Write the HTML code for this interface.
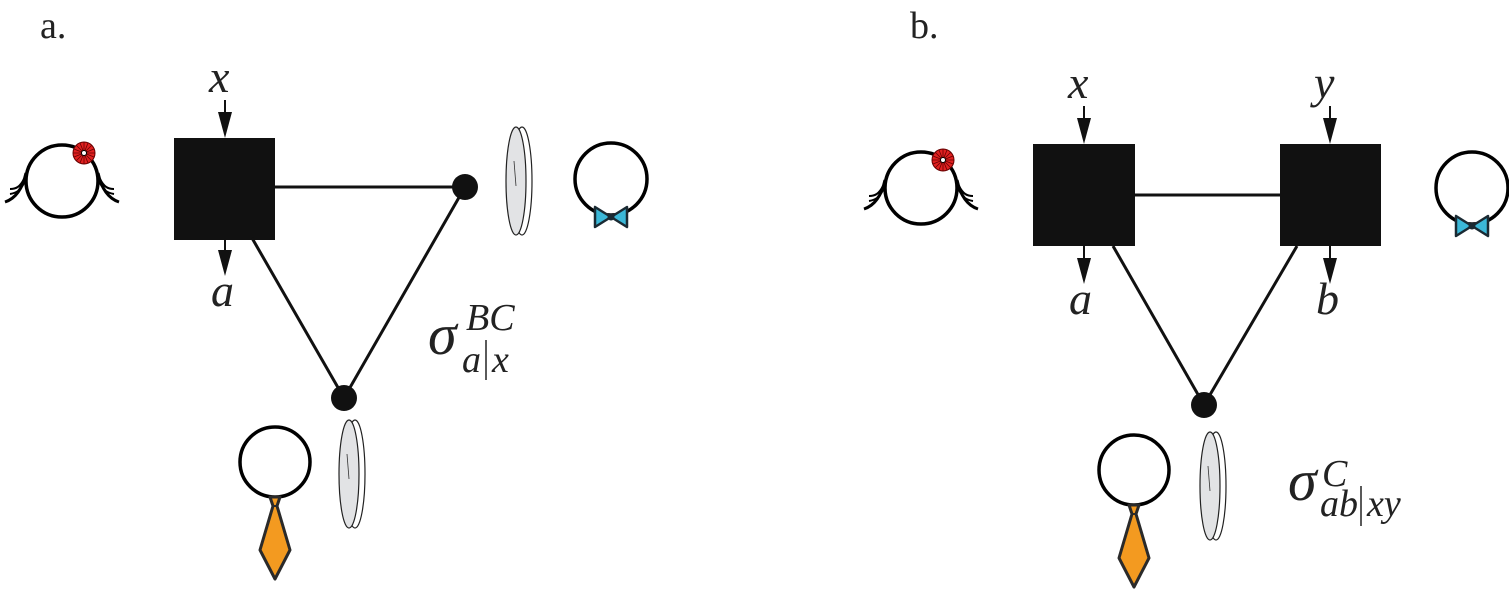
<!DOCTYPE html>
<html><head><meta charset="utf-8"><style>
html,body{margin:0;padding:0;background:#fff;}
svg{display:block;}
text{font-family:"Liberation Serif",serif;fill:#222;}
.m{font-style:italic;}
</style></head><body>
<svg width="1509" height="594" viewBox="0 0 1509 594" xmlns="http://www.w3.org/2000/svg">
<defs>
<g id="headA">
  <circle cx="0" cy="0" r="36" fill="#fff" stroke="#000" stroke-width="3.5"/>
  <path d="M-36,-8 C-40,10 -48,18 -57,21" fill="none" stroke="#000" stroke-width="3"/>
  <path d="M-38,-2 C-42,6 -46,8 -52,8 M-38,2 C-42,10 -46,12 -52,13" fill="none" stroke="#000" stroke-width="2"/>
  <path d="M36,-8 C40,10 48,18 57,21" fill="none" stroke="#000" stroke-width="3"/>
  <path d="M38,-2 C42,6 46,8 52,8 M38,2 C42,10 46,12 52,13" fill="none" stroke="#000" stroke-width="2"/>
  <g transform="translate(22,-28)">
    <circle r="11" fill="#e02020" stroke="#600" stroke-width="1"/>
    <path d="M-11,0H11M0,-11V11M-8,-8L8,8M-8,8L8,-8M-10,-4L10,4M-10,4L10,-4M-4,-10L4,10M4,-10L-4,10" stroke="#600" stroke-width="0.8"/>
    <circle r="2.5" fill="#fff" stroke="#000" stroke-width="1"/>
  </g>
</g>
<g id="headB">
  <circle cx="0" cy="0" r="36" fill="#fff" stroke="#000" stroke-width="3.5"/>
  <path d="M-16,28 L-16,48 L0,38 L16,48 L16,28 L0,38 Z" fill="#3bb8d8" stroke="#1a2a33" stroke-width="2.5" stroke-linejoin="round"/>
  <circle cx="0" cy="38" r="3.5" fill="#1a2a33"/>
</g>
<g id="headC">
  <circle cx="0" cy="0" r="35" fill="#fff" stroke="#000" stroke-width="3.5"/>
  <path d="M-5,35 L5,35 L2,44 L15,88 L0,117 L-15,88 L-2,44 Z" fill="#f39a20" stroke="#2a2a2a" stroke-width="3" stroke-linejoin="round"/>
  <path d="M-2,44 L2,44" stroke="#2a2a2a" stroke-width="2"/>
</g>
<g id="lens">
  <ellipse cx="4" cy="0" rx="10" ry="54" fill="#fff" stroke="#222" stroke-width="1.2"/>
  <ellipse cx="-2" cy="0" rx="10" ry="54" fill="#e2e3e5" stroke="#222" stroke-width="1.2"/>
  <path d="M-4,-20 L-2,5" stroke="#333" stroke-width="0.8"/>
</g>
<path id="arrH" d="M-7,0 L7,0 L0,26 Z" fill="#111"/>
</defs>

<!-- Panel a -->
<text x="40" y="38" font-size="38">a.</text>
<use href="#headA" x="62" y="181"/>
<rect x="174" y="138" width="101" height="102" fill="#111"/>
<line x1="225" y1="100" x2="225" y2="116" stroke="#111" stroke-width="2"/>
<use href="#arrH" x="225" y="112"/>
<line x1="225" y1="240" x2="225" y2="254" stroke="#111" stroke-width="2"/>
<use href="#arrH" x="225" y="250"/>
<text class="m" x="209" y="92" font-size="46">x</text>
<text class="m" x="211" y="306" font-size="46">a</text>
<line x1="275" y1="187" x2="465" y2="187" stroke="#111" stroke-width="3"/>
<line x1="252" y1="238" x2="344" y2="398" stroke="#111" stroke-width="3"/>
<line x1="344" y1="398" x2="465" y2="187" stroke="#111" stroke-width="3"/>
<ellipse cx="465" cy="187" rx="13" ry="13" fill="#111"/>
<ellipse cx="344" cy="398" rx="13" ry="13" fill="#111"/>
<use href="#lens" x="518" y="181"/>
<use href="#headB" x="611" y="179"/>
<use href="#lens" x="351" y="474"/>
<use href="#headC" x="275" y="462"/>
<text class="m" x="428" y="354" font-size="58">σ</text>
<text class="m" x="466" y="330" font-size="38">BC</text>
<text class="m" x="462" y="372" font-size="38">a</text>
<line x1="486" y1="340" x2="486" y2="380" stroke="#222" stroke-width="1.5"/>
<text class="m" x="492" y="372" font-size="38">x</text>

<!-- Panel b -->
<text x="910" y="38" font-size="38">b.</text>
<use href="#headA" x="921" y="188"/>
<rect x="1033" y="144" width="102" height="102" fill="#111"/>
<rect x="1280" y="144" width="101" height="102" fill="#111"/>
<line x1="1135" y1="195" x2="1280" y2="195" stroke="#111" stroke-width="3"/>
<line x1="1084" y1="106" x2="1084" y2="122" stroke="#111" stroke-width="2"/>
<use href="#arrH" x="1084" y="118"/>
<line x1="1330" y1="106" x2="1330" y2="122" stroke="#111" stroke-width="2"/>
<use href="#arrH" x="1330" y="118"/>
<line x1="1084" y1="246" x2="1084" y2="260" stroke="#111" stroke-width="2"/>
<use href="#arrH" x="1084" y="258"/>
<line x1="1330" y1="246" x2="1330" y2="260" stroke="#111" stroke-width="2"/>
<use href="#arrH" x="1330" y="258"/>
<text class="m" x="1068" y="98" font-size="46">x</text>
<text class="m" x="1314" y="98" font-size="46">y</text>
<text class="m" x="1069" y="314" font-size="46">a</text>
<text class="m" x="1316" y="314" font-size="46">b</text>
<line x1="1113" y1="246" x2="1204" y2="405" stroke="#111" stroke-width="3"/>
<line x1="1297" y1="246" x2="1204" y2="405" stroke="#111" stroke-width="3"/>
<ellipse cx="1204" cy="405" rx="13" ry="13" fill="#111"/>
<use href="#lens" x="1212" y="486"/>
<use href="#headB" x="1472" y="188"/>
<use href="#headC" x="1134" y="470"/>
<text class="m" x="1288" y="500" font-size="58">σ</text>
<text class="m" x="1322" y="486" font-size="38">C</text>
<text class="m" x="1320" y="516" font-size="38">ab</text>
<line x1="1361" y1="486" x2="1361" y2="526" stroke="#222" stroke-width="1.5"/>
<text class="m" x="1367" y="516" font-size="38">xy</text>
</svg>
</body></html>
